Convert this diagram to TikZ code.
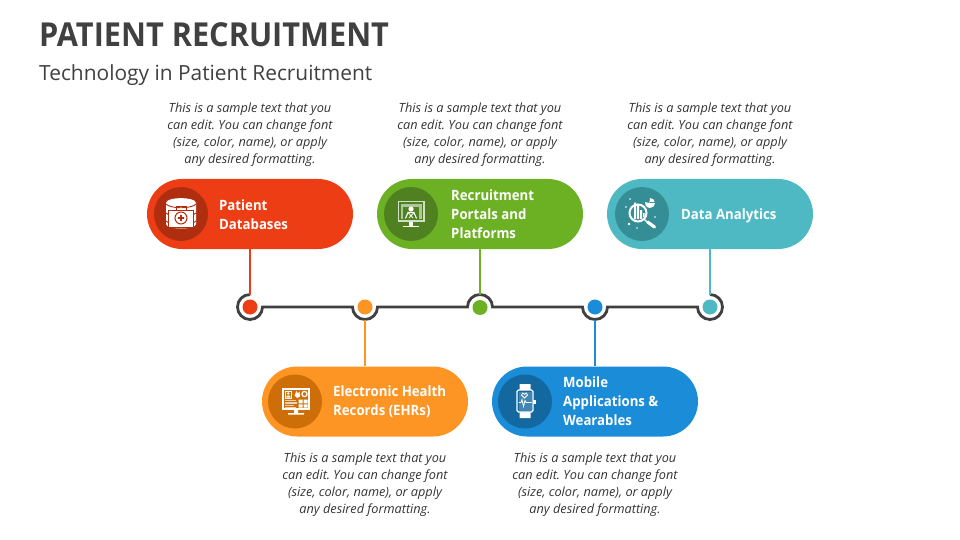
\documentclass[tikz,border=0pt]{standalone}
\usepackage{fontspec}
\setmainfont{Open Sans}
\usetikzlibrary{shapes.misc}
\definecolor{cred}{HTML}{EC3D14}\definecolor{dred}{HTML}{B02E10}
\definecolor{cgrn}{HTML}{6CB024}\definecolor{dgrn}{HTML}{4F8120}
\definecolor{ctea}{HTML}{4EB9C2}\definecolor{dtea}{HTML}{358E96}
\definecolor{cora}{HTML}{FC9524}\definecolor{dora}{HTML}{CE6E09}
\definecolor{cblu}{HTML}{1A8CD8}\definecolor{dblu}{HTML}{12689F}
\definecolor{ink}{HTML}{404040}
\newfontfamily\condbold[FakeStretch=0.93,BoldFont={Open Sans Bold}]{Open Sans}
\tikzset{
 pill/.style={rounded rectangle,minimum width=206pt,minimum height=70pt,inner sep=0pt,fill=#1},
 badge/.style={circle,minimum size=54pt,inner sep=0pt,fill=#1},
 dot/.style={circle,minimum size=15pt,inner sep=0pt,fill=#1},
 lab/.style={anchor=west,inner sep=0pt,align=left,text=white,font=\fontsize{14.2}{19}\selectfont\condbold\bfseries},
 desc/.style={inner sep=0pt,align=center,text=black!80,font=\frenchspacing\fontsize{12.7}{17}\selectfont\itshape},
 rail/.style={draw=ink,line width=2.8pt},
 link/.style={line width=2pt},
}
\begin{document}
\begin{tikzpicture}[x=1pt,y=-1pt]
\useasboundingbox (0,0) rectangle (960,540);
\node[anchor=west,inner sep=0pt,text=ink,font=\fontsize{33}{33}\selectfont\condbold\bfseries] (title) at (39,34.5) {PATIENT RECRUITMENT};
\node[anchor=west,inner sep=0pt,text=ink,font=\fontsize{20.9}{20.9}\selectfont] (sub) at (39,75.5) {Technology in Patient Recruitment};
% description texts
\def\sampletext{This is a sample text that you\\can edit. You can change font\\(size, color, name), or apply\\any desired formatting.}
\node[desc] (d1) at (250,135) {\sampletext};
\node[desc] (d2) at (480,135) {\sampletext};
\node[desc] (d3) at (710,135) {\sampletext};
\node[desc] (d4) at (365,485) {\sampletext};
\node[desc] (d5) at (595,485) {\sampletext};
% pills
\node[pill=cred] (p1) at (250,214) {};
\node[pill=cgrn] (p2) at (480,214) {};
\node[pill=ctea] (p3) at (710,214) {};
\node[pill=cora] (p4) at (365,401.5) {};
\node[pill=cblu] (p5) at (595,401.5) {};
\node[badge=dred] (b1) at (181,214) {};
\node[badge=dgrn] (b2) at (411,214) {};
\node[badge=dtea] (b3) at (642,214) {};
\node[badge=dora] (b4) at (295,401.5) {};
\node[badge=dblu] (b5) at (525,401.5) {};
\node[lab] (t1) at (219,214.5) {Patient\\Databases};
\node[lab] (t2) at (451,214) {Recruitment\\Portals and\\Platforms};
\node[lab] (t3) at (681,215.5) {Data Analytics};
\node[lab] (t4) at (333,402) {Electronic Health\\Records (EHRs)};
\node[lab] (t5) at (563,401) {Mobile\\Applications \&\\Wearables};
% timeline
\node[dot=cred] (n1) at (250,307) {};
\node[dot=cora] (n2) at (365,307) {};
\node[dot=cgrn] (n3) at (480,307.5) {};
\node[dot=cblu] (n4) at (595,307) {};
\node[dot=ctea] (n5) at (710,307) {};
\coordinate (r1) at (250,294.5);
\coordinate (r2) at (365,319.5);
\coordinate (r3) at (480,294.5);
\coordinate (r4) at (595,319.5);
\coordinate (r5) at (710,294.5);
\draw[rail] (r1) arc[start angle=90,end angle=360,radius=12.5pt]
 -- (352.5,307) arc[start angle=180,end angle=360,radius=12.5pt]
 -- (467.5,307) arc[start angle=180,end angle=0,radius=12.5pt]
 -- (582.5,307) arc[start angle=180,end angle=360,radius=12.5pt]
 -- (697.5,307) arc[start angle=180,end angle=450,radius=12.5pt];
\draw[link,cred] (p1.south) -- (r1);
\draw[link,cgrn] (p2.south) -- (r3);
\draw[link,ctea] (p3.south) -- (r5);
\draw[link,cora] (r2) -- (p4.north);
\draw[link,cblu] (r4) -- (p5.north);
% icon 1: database with medical case
\begin{scope}[shift={(181,214)}]
\fill[white] (-15,-11) .. controls (-15,-17.5) and (15,-17.5) .. (15,-11) -- (15,10) .. controls (15,16) and (-15,16) .. (-15,10) -- cycle;
\draw[dred,line width=0.9pt] (-15,-10) .. controls (-11,-5) and (11,-5) .. (15,-10);
\draw[dred,line width=0.9pt] (-15,-1) -- (-12,1) (15,-1) -- (12,1) (-15,7) -- (-12,9) (15,7) -- (12,9);
\fill[white,draw=dred,line width=1pt] (-12.5,-4) rectangle (12.5,13.5);
\draw[dred,line width=1pt] (-5,-4) -- (-5,-7.5) -- (5,-7.5) -- (5,-4);
\draw[dred,line width=1pt] (0,4) circle[radius=6pt];
\fill[dred] (-3.2,3.1) rectangle (3.2,4.9) (-.9,.8) rectangle (.9,7.2);
\end{scope}
% icon 2: monitor with portal
\begin{scope}[shift={(411,214)}]
\fill[white,opacity=.75] (-13.5,-13.5) rectangle (13.5,7.5);
\fill[dgrn] (-12,-12) rectangle (12,6);
\fill[white,opacity=.55] (-10.5,-10.5) rectangle (10.5,4.5);
\fill[dgrn] (-8,-7.5) rectangle (8,4.5);
\fill[white] (0,-5) circle[radius=2.6pt];
\draw[white,line width=1.1pt] (-5.5,4.5) -- (-3,-1.5) -- (3,-1.5) -- (5.5,4.5);
\draw[white,line width=.8pt] (-3,-1.5) -- (2,4) (3,-1.5) -- (-2,4);
\fill[white] (-2,7.5) rectangle (2,11.5);
\fill[white] (-8,12) rectangle (8,13.2);
\end{scope}
% icon 3: analytics magnifier
\begin{scope}[shift={(642,214)}]
\draw[white,line width=2pt] (-4,-1) circle[radius=8.5pt];
\fill[white] (-8,-11.5) rectangle (-6,5) (-5,-9) rectangle (-3,5) (-2,-4) rectangle (0,5) (1,-1) rectangle (2.5,3);
\draw[white,line width=1.2pt] (2,5) -- (4.5,7.5);
\draw[white,line width=3.2pt,line cap=round] (5.5,8) -- (12.5,13);
\fill[white] (8,-16) arc[start angle=90,end angle=-190,radius=5pt] -- (7.5,-11) -- cycle;
\fill[dtea] (8,-11.6) rectangle (13.5,-10.6);
\fill[white] (-12,-15) circle[radius=.9pt] (-16,-7) circle[radius=.9pt] (-13,10) circle[radius=1.3pt] (-5,14) circle[radius=.8pt] (13,3) circle[radius=.9pt];
\end{scope}
% icon 4: monitor with records
\begin{scope}[shift={(295,401.5)}]
\draw[white,line width=1.2pt] (-12,-12.5) rectangle (14,7.5);
\fill[white] (-1,7.5) rectangle (3,11.5) (-7,11.5) rectangle (9,13);
\draw[white,line width=.9pt] (-10,-10.5) rectangle (-3.5,-3.5);
\fill[white] (-6.7,-8) circle[radius=1.4pt] (-8.7,-4) rectangle (-4.7,-6);
\fill[white] (-.5,-6) -- (1.5,-10.5) -- (3,-8) -- (4.5,-10) -- (5,-5) -- (2,-3.5) -- cycle;
\draw[white,line width=1.2pt] (9.5,-7.5) circle[radius=2.6pt];
\draw[white!70!dora,line width=1.2pt] (-10,-1) -- (1,-1) (-10,1.5) -- (2,1.5) (-10,4) -- (-1,4) (-10,6) -- (1,6);
\fill[white] (3.5,-2) rectangle (7.7,1.8) (8.7,-2) rectangle (12.5,1.8) (3.5,2.8) rectangle (7.7,6) (8.7,2.8) rectangle (12.5,6);
\end{scope}
% icon 5: smart watch
\begin{scope}[shift={(525,401.5)}]
\fill[white] (-5.5,-17.5) rectangle (5.5,-11) (-5.5,10) rectangle (5.5,16.5);
\fill[white] (8,-2) rectangle (10.5,2);
\draw[white,line width=1.2pt,fill=dblu,rounded corners=1.5pt] (-8,-11.5) rectangle (8,10.5);
\fill[white,opacity=.2] (-6.5,-10) rectangle (6.5,9);
\draw[white,line width=.8pt] (-.5,-3.5) -- (-3.5,-6.5) -- (-2.2,-8.5) -- (-.5,-7.2) -- (1.2,-8.5) -- (2.5,-6.5) -- cycle;
\draw[white,line width=.8pt] (-6.5,1) -- (-4,1) -- (-3,-2) -- (-1.5,5) -- (0,-1) -- (1,1) -- (6.5,1);
\end{scope}
\end{tikzpicture}
\end{document}
